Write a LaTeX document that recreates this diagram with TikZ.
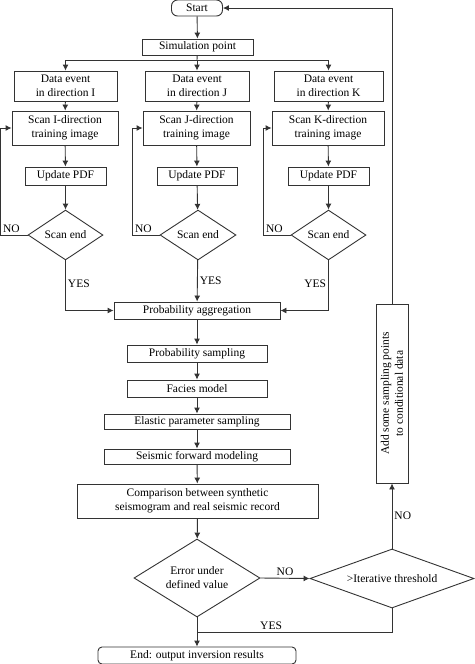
\documentclass[tikz,border=0pt]{standalone}
\usepackage{fontspec}
\setmainfont{Liberation Serif}
\usetikzlibrary{arrows.meta,shapes.geometric}

\begin{document}
\begin{tikzpicture}[x=1pt, y=-1pt,
    >={Latex[length=6pt,width=6pt]},
    every node/.style={font=\fontsize{11.5}{14}\selectfont},
    line/.style={draw=black!80, line width=0.9pt},
    box/.style={line, rectangle, inner sep=0pt, align=center},
    decision/.style={line, diamond, inner sep=0pt, align=center},
    lbl/.style={inner sep=2pt}]

            \useasboundingbox (0,0) rectangle (474,664);

            % Start and simulation point
            \node[box, rounded corners=6pt, minimum width=51, minimum height=16] (start) at (197,8) {Start};
            \node[box, minimum width=111, minimum height=16] (sim) at (197.5,47) {Simulation point};
            \coordinate (split) at (197,60);

            % Data events
            \node[box, minimum width=103, minimum height=30] (dI) at (65.5,86) {Data event\\in direction I};
            \node[box, minimum width=104, minimum height=30] (dJ) at (197,86) {Data event\\in direction J};
            \node[box, minimum width=109, minimum height=30] (dK) at (328.5,86) {Data event\\in direction K};

            % Scanning training images
            \node[box, minimum width=106, minimum height=34] (sI) at (65,128) {Scan I-direction\\training image};
            \node[box, minimum width=107, minimum height=34] (sJ) at (196.5,128) {Scan J-direction\\training image};
            \node[box, minimum width=112, minimum height=34] (sK) at (328,128) {Scan K-direction\\training image};

            % Update PDF
            \node[box, minimum width=81, minimum height=18] (uI) at (65.5,176) {Update PDF};
            \node[box, minimum width=80, minimum height=18] (uJ) at (197,176) {Update PDF};
            \node[box, minimum width=81, minimum height=18] (uK) at (328.5,176) {Update PDF};

            % Scan end decisions
            \node[decision, minimum width=75, minimum height=48] (eI) at (65.5,235) {Scan end};
            \node[decision, minimum width=76, minimum height=48] (eJ) at (198,235) {Scan end};
            \node[decision, minimum width=75, minimum height=48] (eK) at (328.5,235) {Scan end};

            % Main chain
            \node[box, minimum width=166, minimum height=17] (agg) at (197,310.5) {Probability aggregation};
            \node[box, minimum width=140, minimum height=17] (psamp) at (197,353.5) {Probability sampling};
            \node[box, minimum width=140, minimum height=17] (facies) at (197,388.5) {Facies model};
            \node[box, minimum width=186, minimum height=15] (elastic) at (197,421.5) {Elastic parameter sampling};
            \node[box, minimum width=186, minimum height=15] (forward) at (197,456.5) {Seismic forward modeling};
            \node[box, minimum width=241, minimum height=34] (comp) at (197.5,501) {Comparison between synthetic\\seismogram and real seismic record};
            \node[decision, aspect=1.6, minimum width=126, minimum height=78] (err) at (197,578) {Error under\\defined value};
            \node[decision, aspect=2.8, minimum width=164, minimum height=59] (thr) at (392,578.5) {>Iterative threshold};
            \node[box, rotate=90, minimum width=179, minimum height=32] (add) at (392,393.5) {Add some sampling points\\to conditional data};
            \node[box, rounded corners=4pt, minimum width=198, minimum height=17] (endn) at (197,655.5) {End: output inversion results};
            \coordinate (join) at (197,632);

            % Top connectors
            \draw[line, ->] (start) -- (sim);
            \draw[line] (sim) -- (split);
            \draw[line, ->] (split) -| (dI);
            \draw[line, ->] (split) -- (dJ);
            \draw[line, ->] (split) -| (dK);

            % Branches
            \foreach \d in {I,J,K} {
                \draw[line, ->] (d\d) -- (s\d);
                \draw[line, ->] (s\d) -- (u\d);
                \draw[line, ->] (u\d) -- (e\d);
                \draw[line, ->] (e\d.west) -- ++(-27,0) node[lbl, pos=1, above right] {NO} |- (s\d.west);
            }

            % Into aggregation
            \draw[line, ->] (eI.south) |- (agg.west) node[lbl, pos=0.23, right] {YES};
            \draw[line, ->] (eJ) -- (agg) node[lbl, midway, right] {YES};
            \draw[line, ->] (eK.south) |- (agg.east) node[lbl, pos=0.23, left] {YES};

            % Main chain connectors
            \draw[line, ->] (agg) -- (psamp);
            \draw[line, ->] (psamp) -- (facies);
            \draw[line, ->] (facies) -- (elastic);
            \draw[line, ->] (elastic) -- (forward);
            \draw[line, ->] (forward) -- (comp);
            \draw[line, ->] (comp) -- (err);
            \draw[line, ->] (err.east) -- (thr.west) node[lbl, midway, above] {NO};
            \draw[line, ->] (thr.north) -- (add.west) node[lbl, midway, right] {NO};
            \draw[line, ->] (add.east) |- (start.east);
            \draw[line] (thr.south) |- (join) node[lbl, pos=0.81, above] {YES};
            \draw[line, ->] (err.south) -- (endn.north);

        \end{tikzpicture}
\end{document}
